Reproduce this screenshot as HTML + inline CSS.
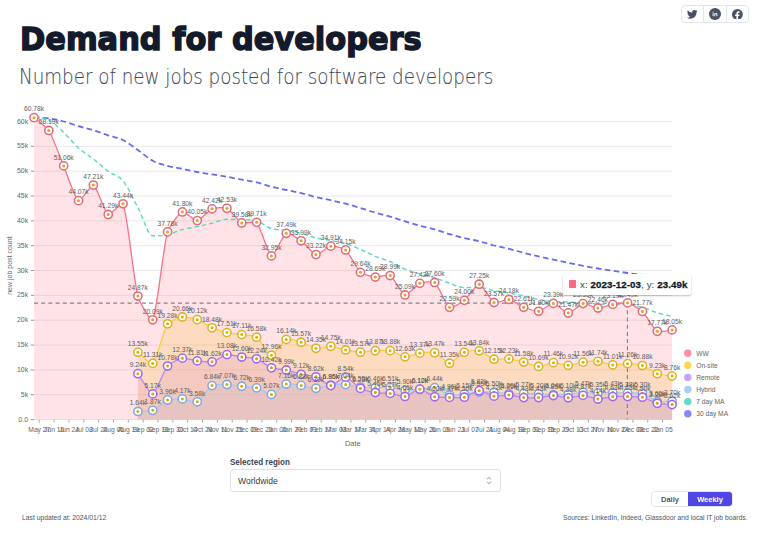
<!DOCTYPE html>
<html><head><meta charset="utf-8"><title>Demand for developers</title>
<style>
html,body{margin:0;padding:0;background:#fff;width:768px;height:538px;overflow:hidden}
body{position:relative;font-family:"Liberation Sans",Arial,sans-serif}
.chart{position:absolute;left:0;top:0}
.g{stroke:#e9e9e9;stroke-width:1}
.xt{stroke:#aaa;stroke-width:1}.yk{stroke:#999;stroke-width:1}
.ch{stroke:#858585;stroke-width:1.15;stroke-dasharray:4 3.2}
.ma30{fill:none;stroke:#686cf0;stroke-width:1.8;stroke-dasharray:5.6 3.4}
.ma7{fill:none;stroke:#5ad8c4;stroke-width:1.4;stroke-dasharray:4.5 3}
.ln{fill:none;stroke-width:1.3;stroke-linejoin:round}
.ln.ww{stroke:#f8728a}.ln.on{stroke:#facd3c}.ln.re{stroke:#bb82f7}.ln.hy{stroke:#a3c8f2}
.pt{fill:#fff;stroke-width:1.55}
.pt.ww{stroke:#e26b7f}.pt.on{stroke:#d9b428}.pt.re{stroke:#a468e6}.pt.hy{stroke:#82aadc}
.dot{fill:#e6a310}.dot.on{fill:#e5b000}.dot.re{fill:#dca010}.dot.hy{fill:#d8aa12}
.dl text{font-size:6.7px;fill:#5e5e5e;text-anchor:middle}
.yt text{font-size:6.9px;fill:#666;text-anchor:end}
.xl text{font-size:6.7px;fill:#666;text-anchor:middle}
.at{font-size:7.0px;fill:#666}
.lg{font-size:6.7px;fill:#666}
h1{position:absolute;left:20.1px;top:22.7px;margin:0;font:700 31.8px "DejaVu Sans",sans-serif;color:#131a2b;white-space:nowrap;line-height:1;-webkit-text-stroke:1.5px #131a2b;transform:scaleX(0.957);transform-origin:0 0}
.sub{position:absolute;left:18.9px;top:66.9px;margin:0;font:200 21px "DejaVu Sans",sans-serif;color:#434a59;white-space:nowrap;line-height:1;-webkit-text-stroke:0.1px #434a59;transform:scaleX(0.871);transform-origin:0 0}
.share{position:absolute;left:681px;top:5px;width:66px;height:16px;border:1px solid #e2e5ea;border-radius:4px;display:flex}
.share div{border-right:1px solid #e2e5ea;display:flex;align-items:center;justify-content:center}.share div:nth-child(1){width:21px}.share div:nth-child(2){width:22px}.share div:nth-child(3){flex:1}
.share div:last-child{border-right:none}
.tip{position:absolute;left:562.5px;top:274px;width:128.5px;height:20.5px;background:#fff;border-radius:2px;box-shadow:0 1px 2px rgba(0,0,0,.25);font-size:9.7px;color:#3a4150;white-space:nowrap}
.tip .sq{position:absolute;left:6px;top:6.3px;width:7.3px;height:7.3px;background:#ff6b84}
.tip .tx{position:absolute;left:17.5px;top:4.9px;letter-spacing:0.1px}
.tip b{font-weight:700;color:#151a26;-webkit-text-stroke:0.3px #151a26}
.lab{position:absolute;left:229.6px;top:457px;font-size:9.2px;font-weight:700;color:#3f4654;transform:scaleX(0.875);transform-origin:0 0;white-space:nowrap}
.sel{position:absolute;left:230px;top:469px;width:269px;height:21px;border:1px solid #dde1e6;border-radius:3px;background:#fff}
.sel span{position:absolute;left:7px;top:5.5px;font-size:9px;color:#363d4a;transform:scaleX(0.95);transform-origin:0 0}
.btns{position:absolute;left:651px;top:491px;width:80px;height:14px;border:1px solid #e2e5ea;border-radius:4px;overflow:hidden;display:flex}
.btns div{display:flex;align-items:center;justify-content:center;font-size:7.5px;font-weight:700}
.b1{width:36px;color:#525866;background:#fff}
.b2{flex:1;background:#4f46e5;color:#fff}
.foot{position:absolute;top:512.3px;font-size:7.7px;color:#4b5563;white-space:nowrap;transform:scaleX(0.9);transform-origin:0 0}
</style></head><body>
<h1 id="t1">Demand for developers</h1>
<p class="sub" id="t2">Number of new jobs posted for software developers</p>
<div class="share">
<div><svg width="10.6" height="8.9" viewBox="0 0 24 20" style="margin-top:0.5px"><path fill="#4a5162" d="M24 2.4a9.8 9.8 0 0 1-2.8.8A4.9 4.9 0 0 0 23.3.4a9.9 9.9 0 0 1-3.1 1.2A4.9 4.9 0 0 0 11.8 6 14 14 0 0 1 1.7.9a4.9 4.9 0 0 0 1.5 6.6A4.9 4.9 0 0 1 1 6.9 4.9 4.9 0 0 0 4.9 11.8a4.9 4.9 0 0 1-2.2.1 4.9 4.9 0 0 0 4.6 3.4A9.9 9.9 0 0 1 0 17.3 14 14 0 0 0 7.5 19.5c9.1 0 14-7.5 14-14v-.6A10 10 0 0 0 24 2.4z"/></svg></div>
<div><svg width="12" height="12" viewBox="0 0 24 24"><circle cx="12" cy="12" r="12" fill="#4a5162"/><g transform="translate(12 12) scale(0.8) translate(-12.5 -12)"><rect x="6.5" y="10" width="2.4" height="7.5" fill="#fff"/><circle cx="7.7" cy="7.3" r="1.4" fill="#fff"/><path fill="#fff" d="M10.8 10h2.3v1.1c.4-.7 1.3-1.3 2.6-1.3 2.3 0 2.8 1.5 2.8 3.5v4.2h-2.4v-3.7c0-.9 0-2-1.3-2s-1.6 1-1.6 2v3.7h-2.4z"/></g></svg></div>
<div><svg width="10.8" height="10.8" viewBox="0 0 24 24" style="margin-left:0.6px"><circle cx="12" cy="12" r="12" fill="#4a5162"/><path fill="#fff" d="M13.4 24v-8.6h2.9l.4-3.4h-3.3V9.9c0-1 .3-1.6 1.7-1.6h1.8V5.2c-.3 0-1.4-.1-2.6-.1-2.6 0-4.3 1.6-4.3 4.4V12H7v3.4h2.9V24z"/></svg></div>
</div>
<svg class="chart" width="768" height="538" viewBox="0 0 768 538"><line x1="34" x2="672.1" y1="419.6" y2="419.6" class="g"/><line x1="30.8" x2="34" y1="419.6" y2="419.6" class="yk"/><line x1="34" x2="672.1" y1="394.76" y2="394.76" class="g"/><line x1="30.8" x2="34" y1="394.76" y2="394.76" class="yk"/><line x1="34" x2="672.1" y1="369.92" y2="369.92" class="g"/><line x1="30.8" x2="34" y1="369.92" y2="369.92" class="yk"/><line x1="34" x2="672.1" y1="345.08" y2="345.08" class="g"/><line x1="30.8" x2="34" y1="345.08" y2="345.08" class="yk"/><line x1="34" x2="672.1" y1="320.23" y2="320.23" class="g"/><line x1="30.8" x2="34" y1="320.23" y2="320.23" class="yk"/><line x1="34" x2="672.1" y1="295.39" y2="295.39" class="g"/><line x1="30.8" x2="34" y1="295.39" y2="295.39" class="yk"/><line x1="34" x2="672.1" y1="270.55" y2="270.55" class="g"/><line x1="30.8" x2="34" y1="270.55" y2="270.55" class="yk"/><line x1="34" x2="672.1" y1="245.71" y2="245.71" class="g"/><line x1="30.8" x2="34" y1="245.71" y2="245.71" class="yk"/><line x1="34" x2="672.1" y1="220.87" y2="220.87" class="g"/><line x1="30.8" x2="34" y1="220.87" y2="220.87" class="yk"/><line x1="34" x2="672.1" y1="196.03" y2="196.03" class="g"/><line x1="30.8" x2="34" y1="196.03" y2="196.03" class="yk"/><line x1="34" x2="672.1" y1="171.19" y2="171.19" class="g"/><line x1="30.8" x2="34" y1="171.19" y2="171.19" class="yk"/><line x1="34" x2="672.1" y1="146.34" y2="146.34" class="g"/><line x1="30.8" x2="34" y1="146.34" y2="146.34" class="yk"/><line x1="34" x2="672.1" y1="121.5" y2="121.5" class="g"/><line x1="30.8" x2="34" y1="121.5" y2="121.5" class="yk"/><path d="M34 117.63 C36.97 120.2 46.83 127.23 48.84 130.49 C52.77 136.88 60.69 158.84 63.68 165.92 C66.62 172.87 74.74 198.21 78.52 200.65 C80.68 202.04 91.01 183.95 93.36 185.05 C96.95 186.72 104.38 212.05 108.2 214.46 C110.32 215.8 122.07 201.11 123.04 203.78 C128 217.42 133.31 278.19 137.88 296.04 C139.25 301.39 151.3 322.85 152.72 319.79 C157.24 310.03 162.92 248.76 167.56 231.9 C168.86 227.19 178.89 213.26 182.4 211.93 C184.83 211 194.42 220.91 197.24 220.62 C200.35 220.3 208.75 210.23 212.08 208.84 C214.69 207.76 224.45 207.12 226.92 208.3 C230.39 209.95 238.29 221.32 241.76 222.95 C244.23 224.12 254.89 220.41 256.6 222.31 C260.83 227 268.02 254.62 271.44 255.89 C273.96 256.83 282.6 235.21 286.28 233.34 C288.54 232.19 298.44 238.88 301.12 240.79 C304.38 243.12 312.74 253.97 315.96 254.55 C318.67 255.04 327.67 246.64 330.8 246.16 C333.61 245.72 343.49 248.03 345.64 249.93 C349.42 253.27 356.72 268.9 360.48 272.34 C362.66 274.33 372.29 276.73 375.32 277.06 C378.22 277.38 387.91 274.21 390.16 275.57 C393.84 277.79 401.65 294.06 405 294.95 C407.58 295.62 416.52 284.76 419.84 283.37 C422.46 282.27 432.67 280.85 434.68 282.47 C438.6 285.65 445.73 305.08 449.52 307.37 C451.67 308.66 461.82 302.34 464.36 300.36 C467.76 297.71 476.34 284.01 479.2 284.21 C482.27 284.44 490.43 300.64 494.04 302.5 C496.36 303.69 506.06 299.01 508.88 299.47 C512 299.97 520.62 306.03 523.72 307.27 C526.56 308.4 535.72 311.66 538.56 311.29 C541.66 310.89 550.5 303.23 553.4 303.39 C556.44 303.56 565.26 312.91 568.24 312.93 C571.2 312.95 579.93 304.11 583.08 303.59 C585.86 303.13 594.93 307.93 597.92 308.01 C600.87 308.09 609.76 304.9 612.76 304.39 C615.69 303.88 624.84 302.24 627.6 302.89 C630.77 303.65 640.02 309.12 642.44 311.44 C645.95 314.8 653.57 329 657.28 331.31 C659.51 332.7 669.15 330.2 672.12 329.92 L672.12 419.6 L34 419.6 Z" fill="rgb(255,100,120)" fill-opacity="0.18"/><path d="M137.88 352.28 C140.85 354.51 150.91 365.14 152.72 363.41 C156.85 359.45 163.28 330.51 167.56 323.81 C169.21 321.22 179.31 317.39 182.4 316.95 C185.25 316.55 194.44 318.62 197.24 319.64 C200.38 320.78 208.99 326.44 212.08 327.79 C214.93 329.03 223.89 331.91 226.92 332.61 C229.83 333.27 238.8 334.13 241.76 334.59 C244.74 335.06 254.27 335.61 256.6 337.23 C260.21 339.73 268.36 354.98 271.44 355.21 C274.3 355.42 282.78 340.94 286.28 339.41 C288.72 338.35 298.24 341.38 301.12 342.24 C304.18 343.16 312.89 347.88 315.96 348.3 C318.83 348.7 327.86 346.15 330.8 346.32 C333.8 346.49 342.64 349.4 345.64 349.99 C348.58 350.57 357.5 352.11 360.48 352.18 C363.44 352.25 372.34 350.84 375.32 350.69 C378.28 350.54 387.31 350.05 390.16 350.64 C393.25 351.28 401.96 356.59 405 356.85 C407.89 357.1 416.83 353.6 419.84 353.17 C422.76 352.76 432.01 351.78 434.68 352.68 C437.95 353.78 446.57 363.24 449.52 363.21 C452.5 363.17 461.08 353.7 464.36 352.33 C467.02 351.22 476.43 350.19 479.2 350.84 C482.37 351.58 490.87 358.38 494.04 359.24 C496.8 359.98 505.95 358.56 508.88 358.84 C511.88 359.12 520.78 361.31 523.72 362.07 C526.72 362.84 535.58 366.43 538.56 366.49 C541.51 366.55 550.41 362.78 553.4 362.66 C556.34 362.55 565.28 365.4 568.24 365.35 C571.22 365.3 580.08 362.58 583.08 362.17 C586.02 361.76 594.99 361 597.92 361.27 C600.93 361.55 609.75 364.66 612.76 364.9 C615.69 365.13 624.64 363.59 627.6 363.66 C630.57 363.72 639.66 364.6 642.44 365.54 C645.59 366.62 654.13 372.63 657.28 373.74 C660.07 374.73 669.15 375.61 672.12 376.08 L672.12 419.6 L137.88 419.6 Z" fill="rgb(243,195,75)" fill-opacity="0.25"/><path d="M137.88 373.69 C140.85 377.74 150.09 394.59 152.72 393.91 C156.03 393.06 163.69 370.71 167.56 366.04 C169.62 363.56 179.27 358.68 182.4 358.14 C185.21 357.66 194.25 360.55 197.24 360.92 C200.19 361.29 209.27 362.47 212.08 361.87 C215.2 361.2 223.81 355.12 226.92 354.61 C229.75 354.15 238.78 356.58 241.76 357 C244.72 357.42 253.86 357.79 256.6 358.79 C259.79 359.95 268.25 366.63 271.44 367.83 C274.19 368.87 283.36 369.33 286.28 369.97 C289.29 370.62 298.11 373.6 301.12 374.29 C304.05 374.96 313.19 375.72 315.96 376.77 C319.13 377.98 327.81 385.53 330.8 385.57 C333.75 385.61 342.8 376.9 345.64 377.17 C348.74 377.47 357.23 386.72 360.48 388.4 C363.17 389.79 372.3 392.01 375.32 392.52 C378.24 393.02 387.22 393.03 390.16 393.42 C393.16 393.81 402.16 396.85 405 396.45 C408.1 396.01 416.88 389.16 419.84 389.19 C422.82 389.22 431.54 395.88 434.68 396.75 C437.48 397.52 446.55 397.34 449.52 397.39 C452.49 397.44 461.52 397.88 464.36 397.24 C467.46 396.54 476.19 390.8 479.2 390.68 C482.13 390.58 490.98 395.7 494.04 396.15 C496.92 396.57 505.93 394.86 508.88 395.01 C511.87 395.15 520.73 397.33 523.72 397.59 C526.67 397.85 535.61 397.8 538.56 397.59 C541.54 397.38 550.44 395.48 553.4 395.5 C556.37 395.53 565.27 397.85 568.24 397.84 C571.21 397.83 580.14 395.29 583.08 395.4 C586.07 395.52 594.93 398.91 597.92 399.03 C600.86 399.15 609.77 396.84 612.76 396.6 C615.71 396.35 624.63 396.53 627.6 396.6 C630.57 396.66 639.59 396.6 642.44 397.24 C645.52 397.94 654.2 402.54 657.28 403.3 C660.14 404.01 669.15 404.34 672.12 404.6 L672.12 419.6 L137.88 419.6 Z" fill="rgb(220,147,188)" fill-opacity="0.25"/><path d="M137.88 411.45 C140.85 411.22 150.04 411.35 152.72 410.31 C155.98 409.04 164.3 401.18 167.56 399.93 C170.24 398.89 179.46 398.69 182.4 398.88 C185.39 399.07 194.82 402.9 197.24 401.81 C200.76 400.24 208.54 387.68 212.08 385.62 C214.48 384.22 223.96 384.41 226.92 384.47 C229.89 384.53 238.79 385.88 241.76 386.21 C244.73 386.55 253.76 387.07 256.6 387.85 C259.69 388.71 268.64 394.77 271.44 394.41 C274.57 394.01 283.02 385.01 286.28 384.03 C288.96 383.22 298.17 384.99 301.12 385.42 C304.11 385.85 313 388.34 315.96 388.3 C318.94 388.26 327.8 385.39 330.8 385.02 C333.73 384.66 342.69 384.42 345.64 384.62 C348.63 384.83 357.49 386.77 360.48 387.06 C363.43 387.34 372.35 387.48 375.32 387.5 C378.29 387.52 387.22 386.98 390.16 387.26 C393.16 387.54 402.01 390.08 405 390.29 C407.94 390.49 416.88 389.56 419.84 389.29 C422.81 389.02 431.87 387.07 434.68 387.6 C437.8 388.2 446.39 394.28 449.52 394.96 C452.33 395.56 461.4 394.31 464.36 394.01 C467.34 393.72 476.22 392.2 479.2 392.03 C482.16 391.85 491.08 392.1 494.04 392.27 C497.02 392.45 505.9 393.65 508.88 393.76 C511.84 393.88 520.75 393.42 523.72 393.42 C526.69 393.42 535.59 393.65 538.56 393.76 C541.53 393.88 550.43 394.51 553.4 394.56 C556.37 394.61 565.28 394.47 568.24 394.26 C571.22 394.05 580.1 392.55 583.08 392.42 C586.04 392.3 594.95 393 597.92 393.02 C600.89 393.04 609.79 392.64 612.76 392.62 C615.73 392.61 624.63 392.81 627.6 392.87 C630.57 392.94 639.68 392.45 642.44 393.27 C645.62 394.21 654.1 400.86 657.28 401.71 C660.04 402.45 669.15 401.32 672.12 401.22 L672.12 419.6 L137.88 419.6 Z" fill="rgb(192,185,203)" fill-opacity="0.25"/><line x1="39.3" x2="39.3" y1="419.6" y2="422.7" class="xt"/><line x1="54.14" x2="54.14" y1="419.6" y2="422.7" class="xt"/><line x1="68.98" x2="68.98" y1="419.6" y2="422.7" class="xt"/><line x1="83.82" x2="83.82" y1="419.6" y2="422.7" class="xt"/><line x1="98.66" x2="98.66" y1="419.6" y2="422.7" class="xt"/><line x1="113.5" x2="113.5" y1="419.6" y2="422.7" class="xt"/><line x1="128.34" x2="128.34" y1="419.6" y2="422.7" class="xt"/><line x1="143.18" x2="143.18" y1="419.6" y2="422.7" class="xt"/><line x1="158.02" x2="158.02" y1="419.6" y2="422.7" class="xt"/><line x1="172.86" x2="172.86" y1="419.6" y2="422.7" class="xt"/><line x1="187.7" x2="187.7" y1="419.6" y2="422.7" class="xt"/><line x1="202.54" x2="202.54" y1="419.6" y2="422.7" class="xt"/><line x1="217.38" x2="217.38" y1="419.6" y2="422.7" class="xt"/><line x1="232.22" x2="232.22" y1="419.6" y2="422.7" class="xt"/><line x1="247.06" x2="247.06" y1="419.6" y2="422.7" class="xt"/><line x1="261.9" x2="261.9" y1="419.6" y2="422.7" class="xt"/><line x1="276.74" x2="276.74" y1="419.6" y2="422.7" class="xt"/><line x1="291.58" x2="291.58" y1="419.6" y2="422.7" class="xt"/><line x1="306.42" x2="306.42" y1="419.6" y2="422.7" class="xt"/><line x1="321.26" x2="321.26" y1="419.6" y2="422.7" class="xt"/><line x1="336.1" x2="336.1" y1="419.6" y2="422.7" class="xt"/><line x1="350.94" x2="350.94" y1="419.6" y2="422.7" class="xt"/><line x1="365.78" x2="365.78" y1="419.6" y2="422.7" class="xt"/><line x1="380.62" x2="380.62" y1="419.6" y2="422.7" class="xt"/><line x1="395.46" x2="395.46" y1="419.6" y2="422.7" class="xt"/><line x1="410.3" x2="410.3" y1="419.6" y2="422.7" class="xt"/><line x1="425.14" x2="425.14" y1="419.6" y2="422.7" class="xt"/><line x1="439.98" x2="439.98" y1="419.6" y2="422.7" class="xt"/><line x1="454.82" x2="454.82" y1="419.6" y2="422.7" class="xt"/><line x1="469.66" x2="469.66" y1="419.6" y2="422.7" class="xt"/><line x1="484.5" x2="484.5" y1="419.6" y2="422.7" class="xt"/><line x1="499.34" x2="499.34" y1="419.6" y2="422.7" class="xt"/><line x1="514.18" x2="514.18" y1="419.6" y2="422.7" class="xt"/><line x1="529.02" x2="529.02" y1="419.6" y2="422.7" class="xt"/><line x1="543.86" x2="543.86" y1="419.6" y2="422.7" class="xt"/><line x1="558.7" x2="558.7" y1="419.6" y2="422.7" class="xt"/><line x1="573.54" x2="573.54" y1="419.6" y2="422.7" class="xt"/><line x1="588.38" x2="588.38" y1="419.6" y2="422.7" class="xt"/><line x1="603.22" x2="603.22" y1="419.6" y2="422.7" class="xt"/><line x1="618.06" x2="618.06" y1="419.6" y2="422.7" class="xt"/><line x1="632.9" x2="632.9" y1="419.6" y2="422.7" class="xt"/><line x1="647.74" x2="647.74" y1="419.6" y2="422.7" class="xt"/><line x1="662.58" x2="662.58" y1="419.6" y2="422.7" class="xt"/><line x1="34" x2="627.6" y1="303.1" y2="303.1" class="ch"/><line x1="627.4" x2="627.4" y1="303.1" y2="419.6" class="ch"/><path d="M34 117.4 C38.95 117.7 43.89 117.62 48.84 118.3 C53.79 118.98 58.73 120.18 63.68 121.5 C68.63 122.82 73.57 124.73 78.52 126.2 C83.47 127.67 88.41 128.78 93.36 130.3 C98.31 131.82 103.25 133.68 108.2 135.3 C113.15 136.92 118.09 137.53 123.04 140 C127.99 142.47 132.93 146.65 137.88 150.1 C142.83 153.55 147.77 158.08 152.72 160.7 C157.67 163.32 162.61 164.43 167.56 165.8 C172.51 167.17 177.45 167.87 182.4 168.9 C187.35 169.93 192.29 171.08 197.24 172 C202.19 172.92 207.13 173.6 212.08 174.4 C217.03 175.2 221.97 175.93 226.92 176.8 C231.87 177.67 236.81 178.67 241.76 179.6 C246.71 180.53 251.65 181.2 256.6 182.4 C261.55 183.6 266.49 185.53 271.44 186.8 C276.39 188.07 281.33 188.95 286.28 190 C291.23 191.05 296.17 191.92 301.12 193.1 C306.07 194.28 311.01 195.92 315.96 197.1 C320.91 198.28 325.85 199.1 330.8 200.2 C335.75 201.3 340.69 202.4 345.64 203.7 C350.59 205 355.53 206.52 360.48 208 C365.43 209.48 370.37 211.17 375.32 212.6 C380.27 214.03 385.21 215.15 390.16 216.6 C395.11 218.05 400.05 219.78 405 221.3 C409.95 222.82 414.89 224.35 419.84 225.7 C424.79 227.05 429.73 228 434.68 229.4 C439.63 230.8 444.57 232.63 449.52 234.1 C454.47 235.57 459.41 237 464.36 238.2 C469.31 239.4 474.25 240.08 479.2 241.3 C484.15 242.52 489.09 244.25 494.04 245.5 C498.99 246.75 503.93 247.58 508.88 248.8 C513.83 250.02 518.77 251.53 523.72 252.8 C528.67 254.07 533.61 255.27 538.56 256.4 C543.51 257.53 548.45 258.52 553.4 259.6 C558.35 260.68 563.29 261.87 568.24 262.9 C573.19 263.93 578.13 264.87 583.08 265.8 C588.03 266.73 592.97 267.68 597.92 268.5 C602.87 269.32 607.81 269.95 612.76 270.7 C617.71 271.45 622.65 272.28 627.6 273 C632.55 273.72 637.49 274.33 642.44 275 C647.39 275.67 652.33 276.33 657.28 277 C662.23 277.67 667.17 278.33 672.12 279" class="ma30"/><path d="M34 117.4 C38.95 118.3 43.89 117.6 48.84 120.1 C53.79 122.6 58.73 127.75 63.68 132.4 C68.63 137.05 73.57 143.57 78.52 148 C83.47 152.43 88.41 155.12 93.36 159 C98.31 162.88 103.25 167.63 108.2 171.3 C113.15 174.97 118.09 174.97 123.04 181 C127.99 187.03 132.93 198.37 137.88 207.5 C142.83 216.63 147.77 235.8 152.72 235.8 C157.67 235.8 162.61 235.63 167.56 234.6 C172.51 233.57 177.45 230.93 182.4 229.6 C187.35 228.27 192.29 227.67 197.24 226.6 C202.19 225.53 207.13 224.43 212.08 223.2 C217.03 221.97 221.97 219.2 226.92 219.2 C231.87 219.2 236.81 219.33 241.76 219.6 C246.71 219.87 251.65 219.63 256.6 221 C261.55 222.37 266.49 227.02 271.44 228.6 C276.39 230.18 281.33 229.73 286.28 230.5 C291.23 231.27 296.17 231.98 301.12 233.2 C306.07 234.42 311.01 236.58 315.96 237.8 C320.91 239.02 325.85 239.55 330.8 240.5 C335.75 241.45 340.69 242 345.64 243.5 C350.59 245 355.53 247.37 360.48 249.5 C365.43 251.63 370.37 254.27 375.32 256.3 C380.27 258.33 385.21 259.55 390.16 261.7 C395.11 263.85 400.05 267.18 405 269.2 C409.95 271.22 414.89 272.4 419.84 273.8 C424.79 275.2 429.73 276.02 434.68 277.6 C439.63 279.18 444.57 281.63 449.52 283.3 C454.47 284.97 459.41 287.6 464.36 287.6 C469.31 287.6 474.25 287.5 479.2 287.5 C484.15 287.5 489.09 289.58 494.04 290.5 C498.99 291.42 503.93 292.08 508.88 293 C513.83 293.92 518.77 294.9 523.72 296 C528.67 297.1 533.61 298.72 538.56 299.6 C543.51 300.48 548.45 300.9 553.4 301.3 C558.35 301.7 563.29 301.73 568.24 302 C573.19 302.27 578.13 302.57 583.08 302.9 C588.03 303.23 592.97 303.73 597.92 304 C602.87 304.27 607.81 304.5 612.76 304.5 C617.71 304.5 622.65 304.3 627.6 304.3 C632.55 304.3 637.49 306.08 642.44 307.5 C647.39 308.92 652.33 311.3 657.28 312.8 C662.23 314.3 667.17 315.27 672.12 316.5" class="ma7"/><path d="M137.88 411.45 C140.85 411.22 150.04 411.35 152.72 410.31 C155.98 409.04 164.3 401.18 167.56 399.93 C170.24 398.89 179.46 398.69 182.4 398.88 C185.39 399.07 194.82 402.9 197.24 401.81 C200.76 400.24 208.54 387.68 212.08 385.62 C214.48 384.22 223.96 384.41 226.92 384.47 C229.89 384.53 238.79 385.88 241.76 386.21 C244.73 386.55 253.76 387.07 256.6 387.85 C259.69 388.71 268.64 394.77 271.44 394.41 C274.57 394.01 283.02 385.01 286.28 384.03 C288.96 383.22 298.17 384.99 301.12 385.42 C304.11 385.85 313 388.34 315.96 388.3 C318.94 388.26 327.8 385.39 330.8 385.02 C333.73 384.66 342.69 384.42 345.64 384.62 C348.63 384.83 357.49 386.77 360.48 387.06 C363.43 387.34 372.35 387.48 375.32 387.5 C378.29 387.52 387.22 386.98 390.16 387.26 C393.16 387.54 402.01 390.08 405 390.29 C407.94 390.49 416.88 389.56 419.84 389.29 C422.81 389.02 431.87 387.07 434.68 387.6 C437.8 388.2 446.39 394.28 449.52 394.96 C452.33 395.56 461.4 394.31 464.36 394.01 C467.34 393.72 476.22 392.2 479.2 392.03 C482.16 391.85 491.08 392.1 494.04 392.27 C497.02 392.45 505.9 393.65 508.88 393.76 C511.84 393.88 520.75 393.42 523.72 393.42 C526.69 393.42 535.59 393.65 538.56 393.76 C541.53 393.88 550.43 394.51 553.4 394.56 C556.37 394.61 565.28 394.47 568.24 394.26 C571.22 394.05 580.1 392.55 583.08 392.42 C586.04 392.3 594.95 393 597.92 393.02 C600.89 393.04 609.79 392.64 612.76 392.62 C615.73 392.61 624.63 392.81 627.6 392.87 C630.57 392.94 639.68 392.45 642.44 393.27 C645.62 394.21 654.1 400.86 657.28 401.71 C660.04 402.45 669.15 401.32 672.12 401.22" class="ln hy"/><circle cx="137.88" cy="411.45" r="4.1" class="pt hy"/><circle cx="137.88" cy="411.45" r="1.5" class="dot hy"/><circle cx="152.72" cy="410.31" r="4.1" class="pt hy"/><circle cx="152.72" cy="410.31" r="1.5" class="dot hy"/><circle cx="167.56" cy="399.93" r="4.1" class="pt hy"/><circle cx="167.56" cy="399.93" r="1.5" class="dot hy"/><circle cx="182.4" cy="398.88" r="4.1" class="pt hy"/><circle cx="182.4" cy="398.88" r="1.5" class="dot hy"/><circle cx="197.24" cy="401.81" r="4.1" class="pt hy"/><circle cx="197.24" cy="401.81" r="1.5" class="dot hy"/><circle cx="212.08" cy="385.62" r="4.1" class="pt hy"/><circle cx="212.08" cy="385.62" r="1.5" class="dot hy"/><circle cx="226.92" cy="384.47" r="4.1" class="pt hy"/><circle cx="226.92" cy="384.47" r="1.5" class="dot hy"/><circle cx="241.76" cy="386.21" r="4.1" class="pt hy"/><circle cx="241.76" cy="386.21" r="1.5" class="dot hy"/><circle cx="256.6" cy="387.85" r="4.1" class="pt hy"/><circle cx="256.6" cy="387.85" r="1.5" class="dot hy"/><circle cx="271.44" cy="394.41" r="4.1" class="pt hy"/><circle cx="271.44" cy="394.41" r="1.5" class="dot hy"/><circle cx="286.28" cy="384.03" r="4.1" class="pt hy"/><circle cx="286.28" cy="384.03" r="1.5" class="dot hy"/><circle cx="301.12" cy="385.42" r="4.1" class="pt hy"/><circle cx="301.12" cy="385.42" r="1.5" class="dot hy"/><circle cx="315.96" cy="388.3" r="4.1" class="pt hy"/><circle cx="315.96" cy="388.3" r="1.5" class="dot hy"/><circle cx="330.8" cy="385.02" r="4.1" class="pt hy"/><circle cx="330.8" cy="385.02" r="1.5" class="dot hy"/><circle cx="345.64" cy="384.62" r="4.1" class="pt hy"/><circle cx="345.64" cy="384.62" r="1.5" class="dot hy"/><circle cx="360.48" cy="387.06" r="4.1" class="pt hy"/><circle cx="360.48" cy="387.06" r="1.5" class="dot hy"/><circle cx="375.32" cy="387.5" r="4.1" class="pt hy"/><circle cx="375.32" cy="387.5" r="1.5" class="dot hy"/><circle cx="390.16" cy="387.26" r="4.1" class="pt hy"/><circle cx="390.16" cy="387.26" r="1.5" class="dot hy"/><circle cx="405" cy="390.29" r="4.1" class="pt hy"/><circle cx="405" cy="390.29" r="1.5" class="dot hy"/><circle cx="419.84" cy="389.29" r="4.1" class="pt hy"/><circle cx="419.84" cy="389.29" r="1.5" class="dot hy"/><circle cx="434.68" cy="387.6" r="4.1" class="pt hy"/><circle cx="434.68" cy="387.6" r="1.5" class="dot hy"/><circle cx="449.52" cy="394.96" r="4.1" class="pt hy"/><circle cx="449.52" cy="394.96" r="1.5" class="dot hy"/><circle cx="464.36" cy="394.01" r="4.1" class="pt hy"/><circle cx="464.36" cy="394.01" r="1.5" class="dot hy"/><circle cx="479.2" cy="392.03" r="4.1" class="pt hy"/><circle cx="479.2" cy="392.03" r="1.5" class="dot hy"/><circle cx="494.04" cy="392.27" r="4.1" class="pt hy"/><circle cx="494.04" cy="392.27" r="1.5" class="dot hy"/><circle cx="508.88" cy="393.76" r="4.1" class="pt hy"/><circle cx="508.88" cy="393.76" r="1.5" class="dot hy"/><circle cx="523.72" cy="393.42" r="4.1" class="pt hy"/><circle cx="523.72" cy="393.42" r="1.5" class="dot hy"/><circle cx="538.56" cy="393.76" r="4.1" class="pt hy"/><circle cx="538.56" cy="393.76" r="1.5" class="dot hy"/><circle cx="553.4" cy="394.56" r="4.1" class="pt hy"/><circle cx="553.4" cy="394.56" r="1.5" class="dot hy"/><circle cx="568.24" cy="394.26" r="4.1" class="pt hy"/><circle cx="568.24" cy="394.26" r="1.5" class="dot hy"/><circle cx="583.08" cy="392.42" r="4.1" class="pt hy"/><circle cx="583.08" cy="392.42" r="1.5" class="dot hy"/><circle cx="597.92" cy="393.02" r="4.1" class="pt hy"/><circle cx="597.92" cy="393.02" r="1.5" class="dot hy"/><circle cx="612.76" cy="392.62" r="4.1" class="pt hy"/><circle cx="612.76" cy="392.62" r="1.5" class="dot hy"/><circle cx="627.6" cy="392.87" r="4.1" class="pt hy"/><circle cx="627.6" cy="392.87" r="1.5" class="dot hy"/><circle cx="642.44" cy="393.27" r="4.1" class="pt hy"/><circle cx="642.44" cy="393.27" r="1.5" class="dot hy"/><circle cx="657.28" cy="401.71" r="4.1" class="pt hy"/><circle cx="657.28" cy="401.71" r="1.5" class="dot hy"/><circle cx="672.12" cy="401.22" r="4.1" class="pt hy"/><circle cx="672.12" cy="401.22" r="1.5" class="dot hy"/><path d="M137.88 373.69 C140.85 377.74 150.09 394.59 152.72 393.91 C156.03 393.06 163.69 370.71 167.56 366.04 C169.62 363.56 179.27 358.68 182.4 358.14 C185.21 357.66 194.25 360.55 197.24 360.92 C200.19 361.29 209.27 362.47 212.08 361.87 C215.2 361.2 223.81 355.12 226.92 354.61 C229.75 354.15 238.78 356.58 241.76 357 C244.72 357.42 253.86 357.79 256.6 358.79 C259.79 359.95 268.25 366.63 271.44 367.83 C274.19 368.87 283.36 369.33 286.28 369.97 C289.29 370.62 298.11 373.6 301.12 374.29 C304.05 374.96 313.19 375.72 315.96 376.77 C319.13 377.98 327.81 385.53 330.8 385.57 C333.75 385.61 342.8 376.9 345.64 377.17 C348.74 377.47 357.23 386.72 360.48 388.4 C363.17 389.79 372.3 392.01 375.32 392.52 C378.24 393.02 387.22 393.03 390.16 393.42 C393.16 393.81 402.16 396.85 405 396.45 C408.1 396.01 416.88 389.16 419.84 389.19 C422.82 389.22 431.54 395.88 434.68 396.75 C437.48 397.52 446.55 397.34 449.52 397.39 C452.49 397.44 461.52 397.88 464.36 397.24 C467.46 396.54 476.19 390.8 479.2 390.68 C482.13 390.58 490.98 395.7 494.04 396.15 C496.92 396.57 505.93 394.86 508.88 395.01 C511.87 395.15 520.73 397.33 523.72 397.59 C526.67 397.85 535.61 397.8 538.56 397.59 C541.54 397.38 550.44 395.48 553.4 395.5 C556.37 395.53 565.27 397.85 568.24 397.84 C571.21 397.83 580.14 395.29 583.08 395.4 C586.07 395.52 594.93 398.91 597.92 399.03 C600.86 399.15 609.77 396.84 612.76 396.6 C615.71 396.35 624.63 396.53 627.6 396.6 C630.57 396.66 639.59 396.6 642.44 397.24 C645.52 397.94 654.2 402.54 657.28 403.3 C660.14 404.01 669.15 404.34 672.12 404.6" class="ln re"/><circle cx="137.88" cy="373.69" r="4.1" class="pt re"/><circle cx="137.88" cy="373.69" r="1.5" class="dot re"/><circle cx="152.72" cy="393.91" r="4.1" class="pt re"/><circle cx="152.72" cy="393.91" r="1.5" class="dot re"/><circle cx="167.56" cy="366.04" r="4.1" class="pt re"/><circle cx="167.56" cy="366.04" r="1.5" class="dot re"/><circle cx="182.4" cy="358.14" r="4.1" class="pt re"/><circle cx="182.4" cy="358.14" r="1.5" class="dot re"/><circle cx="197.24" cy="360.92" r="4.1" class="pt re"/><circle cx="197.24" cy="360.92" r="1.5" class="dot re"/><circle cx="212.08" cy="361.87" r="4.1" class="pt re"/><circle cx="212.08" cy="361.87" r="1.5" class="dot re"/><circle cx="226.92" cy="354.61" r="4.1" class="pt re"/><circle cx="226.92" cy="354.61" r="1.5" class="dot re"/><circle cx="241.76" cy="357" r="4.1" class="pt re"/><circle cx="241.76" cy="357" r="1.5" class="dot re"/><circle cx="256.6" cy="358.79" r="4.1" class="pt re"/><circle cx="256.6" cy="358.79" r="1.5" class="dot re"/><circle cx="271.44" cy="367.83" r="4.1" class="pt re"/><circle cx="271.44" cy="367.83" r="1.5" class="dot re"/><circle cx="286.28" cy="369.97" r="4.1" class="pt re"/><circle cx="286.28" cy="369.97" r="1.5" class="dot re"/><circle cx="301.12" cy="374.29" r="4.1" class="pt re"/><circle cx="301.12" cy="374.29" r="1.5" class="dot re"/><circle cx="315.96" cy="376.77" r="4.1" class="pt re"/><circle cx="315.96" cy="376.77" r="1.5" class="dot re"/><circle cx="330.8" cy="385.57" r="4.1" class="pt re"/><circle cx="330.8" cy="385.57" r="1.5" class="dot re"/><circle cx="345.64" cy="377.17" r="4.1" class="pt re"/><circle cx="345.64" cy="377.17" r="1.5" class="dot re"/><circle cx="360.48" cy="388.4" r="4.1" class="pt re"/><circle cx="360.48" cy="388.4" r="1.5" class="dot re"/><circle cx="375.32" cy="392.52" r="4.1" class="pt re"/><circle cx="375.32" cy="392.52" r="1.5" class="dot re"/><circle cx="390.16" cy="393.42" r="4.1" class="pt re"/><circle cx="390.16" cy="393.42" r="1.5" class="dot re"/><circle cx="405" cy="396.45" r="4.1" class="pt re"/><circle cx="405" cy="396.45" r="1.5" class="dot re"/><circle cx="419.84" cy="389.19" r="4.1" class="pt re"/><circle cx="419.84" cy="389.19" r="1.5" class="dot re"/><circle cx="434.68" cy="396.75" r="4.1" class="pt re"/><circle cx="434.68" cy="396.75" r="1.5" class="dot re"/><circle cx="449.52" cy="397.39" r="4.1" class="pt re"/><circle cx="449.52" cy="397.39" r="1.5" class="dot re"/><circle cx="464.36" cy="397.24" r="4.1" class="pt re"/><circle cx="464.36" cy="397.24" r="1.5" class="dot re"/><circle cx="479.2" cy="390.68" r="4.1" class="pt re"/><circle cx="479.2" cy="390.68" r="1.5" class="dot re"/><circle cx="494.04" cy="396.15" r="4.1" class="pt re"/><circle cx="494.04" cy="396.15" r="1.5" class="dot re"/><circle cx="508.88" cy="395.01" r="4.1" class="pt re"/><circle cx="508.88" cy="395.01" r="1.5" class="dot re"/><circle cx="523.72" cy="397.59" r="4.1" class="pt re"/><circle cx="523.72" cy="397.59" r="1.5" class="dot re"/><circle cx="538.56" cy="397.59" r="4.1" class="pt re"/><circle cx="538.56" cy="397.59" r="1.5" class="dot re"/><circle cx="553.4" cy="395.5" r="4.1" class="pt re"/><circle cx="553.4" cy="395.5" r="1.5" class="dot re"/><circle cx="568.24" cy="397.84" r="4.1" class="pt re"/><circle cx="568.24" cy="397.84" r="1.5" class="dot re"/><circle cx="583.08" cy="395.4" r="4.1" class="pt re"/><circle cx="583.08" cy="395.4" r="1.5" class="dot re"/><circle cx="597.92" cy="399.03" r="4.1" class="pt re"/><circle cx="597.92" cy="399.03" r="1.5" class="dot re"/><circle cx="612.76" cy="396.6" r="4.1" class="pt re"/><circle cx="612.76" cy="396.6" r="1.5" class="dot re"/><circle cx="627.6" cy="396.6" r="4.1" class="pt re"/><circle cx="627.6" cy="396.6" r="1.5" class="dot re"/><circle cx="642.44" cy="397.24" r="4.1" class="pt re"/><circle cx="642.44" cy="397.24" r="1.5" class="dot re"/><circle cx="657.28" cy="403.3" r="4.1" class="pt re"/><circle cx="657.28" cy="403.3" r="1.5" class="dot re"/><circle cx="672.12" cy="404.6" r="4.1" class="pt re"/><circle cx="672.12" cy="404.6" r="1.5" class="dot re"/><path d="M137.88 352.28 C140.85 354.51 150.91 365.14 152.72 363.41 C156.85 359.45 163.28 330.51 167.56 323.81 C169.21 321.22 179.31 317.39 182.4 316.95 C185.25 316.55 194.44 318.62 197.24 319.64 C200.38 320.78 208.99 326.44 212.08 327.79 C214.93 329.03 223.89 331.91 226.92 332.61 C229.83 333.27 238.8 334.13 241.76 334.59 C244.74 335.06 254.27 335.61 256.6 337.23 C260.21 339.73 268.36 354.98 271.44 355.21 C274.3 355.42 282.78 340.94 286.28 339.41 C288.72 338.35 298.24 341.38 301.12 342.24 C304.18 343.16 312.89 347.88 315.96 348.3 C318.83 348.7 327.86 346.15 330.8 346.32 C333.8 346.49 342.64 349.4 345.64 349.99 C348.58 350.57 357.5 352.11 360.48 352.18 C363.44 352.25 372.34 350.84 375.32 350.69 C378.28 350.54 387.31 350.05 390.16 350.64 C393.25 351.28 401.96 356.59 405 356.85 C407.89 357.1 416.83 353.6 419.84 353.17 C422.76 352.76 432.01 351.78 434.68 352.68 C437.95 353.78 446.57 363.24 449.52 363.21 C452.5 363.17 461.08 353.7 464.36 352.33 C467.02 351.22 476.43 350.19 479.2 350.84 C482.37 351.58 490.87 358.38 494.04 359.24 C496.8 359.98 505.95 358.56 508.88 358.84 C511.88 359.12 520.78 361.31 523.72 362.07 C526.72 362.84 535.58 366.43 538.56 366.49 C541.51 366.55 550.41 362.78 553.4 362.66 C556.34 362.55 565.28 365.4 568.24 365.35 C571.22 365.3 580.08 362.58 583.08 362.17 C586.02 361.76 594.99 361 597.92 361.27 C600.93 361.55 609.75 364.66 612.76 364.9 C615.69 365.13 624.64 363.59 627.6 363.66 C630.57 363.72 639.66 364.6 642.44 365.54 C645.59 366.62 654.13 372.63 657.28 373.74 C660.07 374.73 669.15 375.61 672.12 376.08" class="ln on"/><circle cx="137.88" cy="352.28" r="4.1" class="pt on"/><circle cx="137.88" cy="352.28" r="1.5" class="dot on"/><circle cx="152.72" cy="363.41" r="4.1" class="pt on"/><circle cx="152.72" cy="363.41" r="1.5" class="dot on"/><circle cx="167.56" cy="323.81" r="4.1" class="pt on"/><circle cx="167.56" cy="323.81" r="1.5" class="dot on"/><circle cx="182.4" cy="316.95" r="4.1" class="pt on"/><circle cx="182.4" cy="316.95" r="1.5" class="dot on"/><circle cx="197.24" cy="319.64" r="4.1" class="pt on"/><circle cx="197.24" cy="319.64" r="1.5" class="dot on"/><circle cx="212.08" cy="327.79" r="4.1" class="pt on"/><circle cx="212.08" cy="327.79" r="1.5" class="dot on"/><circle cx="226.92" cy="332.61" r="4.1" class="pt on"/><circle cx="226.92" cy="332.61" r="1.5" class="dot on"/><circle cx="241.76" cy="334.59" r="4.1" class="pt on"/><circle cx="241.76" cy="334.59" r="1.5" class="dot on"/><circle cx="256.6" cy="337.23" r="4.1" class="pt on"/><circle cx="256.6" cy="337.23" r="1.5" class="dot on"/><circle cx="271.44" cy="355.21" r="4.1" class="pt on"/><circle cx="271.44" cy="355.21" r="1.5" class="dot on"/><circle cx="286.28" cy="339.41" r="4.1" class="pt on"/><circle cx="286.28" cy="339.41" r="1.5" class="dot on"/><circle cx="301.12" cy="342.24" r="4.1" class="pt on"/><circle cx="301.12" cy="342.24" r="1.5" class="dot on"/><circle cx="315.96" cy="348.3" r="4.1" class="pt on"/><circle cx="315.96" cy="348.3" r="1.5" class="dot on"/><circle cx="330.8" cy="346.32" r="4.1" class="pt on"/><circle cx="330.8" cy="346.32" r="1.5" class="dot on"/><circle cx="345.64" cy="349.99" r="4.1" class="pt on"/><circle cx="345.64" cy="349.99" r="1.5" class="dot on"/><circle cx="360.48" cy="352.18" r="4.1" class="pt on"/><circle cx="360.48" cy="352.18" r="1.5" class="dot on"/><circle cx="375.32" cy="350.69" r="4.1" class="pt on"/><circle cx="375.32" cy="350.69" r="1.5" class="dot on"/><circle cx="390.16" cy="350.64" r="4.1" class="pt on"/><circle cx="390.16" cy="350.64" r="1.5" class="dot on"/><circle cx="405" cy="356.85" r="4.1" class="pt on"/><circle cx="405" cy="356.85" r="1.5" class="dot on"/><circle cx="419.84" cy="353.17" r="4.1" class="pt on"/><circle cx="419.84" cy="353.17" r="1.5" class="dot on"/><circle cx="434.68" cy="352.68" r="4.1" class="pt on"/><circle cx="434.68" cy="352.68" r="1.5" class="dot on"/><circle cx="449.52" cy="363.21" r="4.1" class="pt on"/><circle cx="449.52" cy="363.21" r="1.5" class="dot on"/><circle cx="464.36" cy="352.33" r="4.1" class="pt on"/><circle cx="464.36" cy="352.33" r="1.5" class="dot on"/><circle cx="479.2" cy="350.84" r="4.1" class="pt on"/><circle cx="479.2" cy="350.84" r="1.5" class="dot on"/><circle cx="494.04" cy="359.24" r="4.1" class="pt on"/><circle cx="494.04" cy="359.24" r="1.5" class="dot on"/><circle cx="508.88" cy="358.84" r="4.1" class="pt on"/><circle cx="508.88" cy="358.84" r="1.5" class="dot on"/><circle cx="523.72" cy="362.07" r="4.1" class="pt on"/><circle cx="523.72" cy="362.07" r="1.5" class="dot on"/><circle cx="538.56" cy="366.49" r="4.1" class="pt on"/><circle cx="538.56" cy="366.49" r="1.5" class="dot on"/><circle cx="553.4" cy="362.66" r="4.1" class="pt on"/><circle cx="553.4" cy="362.66" r="1.5" class="dot on"/><circle cx="568.24" cy="365.35" r="4.1" class="pt on"/><circle cx="568.24" cy="365.35" r="1.5" class="dot on"/><circle cx="583.08" cy="362.17" r="4.1" class="pt on"/><circle cx="583.08" cy="362.17" r="1.5" class="dot on"/><circle cx="597.92" cy="361.27" r="4.1" class="pt on"/><circle cx="597.92" cy="361.27" r="1.5" class="dot on"/><circle cx="612.76" cy="364.9" r="4.1" class="pt on"/><circle cx="612.76" cy="364.9" r="1.5" class="dot on"/><circle cx="627.6" cy="363.66" r="4.1" class="pt on"/><circle cx="627.6" cy="363.66" r="1.5" class="dot on"/><circle cx="642.44" cy="365.54" r="4.1" class="pt on"/><circle cx="642.44" cy="365.54" r="1.5" class="dot on"/><circle cx="657.28" cy="373.74" r="4.1" class="pt on"/><circle cx="657.28" cy="373.74" r="1.5" class="dot on"/><circle cx="672.12" cy="376.08" r="4.1" class="pt on"/><circle cx="672.12" cy="376.08" r="1.5" class="dot on"/><path d="M34 117.63 C36.97 120.2 46.83 127.23 48.84 130.49 C52.77 136.88 60.69 158.84 63.68 165.92 C66.62 172.87 74.74 198.21 78.52 200.65 C80.68 202.04 91.01 183.95 93.36 185.05 C96.95 186.72 104.38 212.05 108.2 214.46 C110.32 215.8 122.07 201.11 123.04 203.78 C128 217.42 133.31 278.19 137.88 296.04 C139.25 301.39 151.3 322.85 152.72 319.79 C157.24 310.03 162.92 248.76 167.56 231.9 C168.86 227.19 178.89 213.26 182.4 211.93 C184.83 211 194.42 220.91 197.24 220.62 C200.35 220.3 208.75 210.23 212.08 208.84 C214.69 207.76 224.45 207.12 226.92 208.3 C230.39 209.95 238.29 221.32 241.76 222.95 C244.23 224.12 254.89 220.41 256.6 222.31 C260.83 227 268.02 254.62 271.44 255.89 C273.96 256.83 282.6 235.21 286.28 233.34 C288.54 232.19 298.44 238.88 301.12 240.79 C304.38 243.12 312.74 253.97 315.96 254.55 C318.67 255.04 327.67 246.64 330.8 246.16 C333.61 245.72 343.49 248.03 345.64 249.93 C349.42 253.27 356.72 268.9 360.48 272.34 C362.66 274.33 372.29 276.73 375.32 277.06 C378.22 277.38 387.91 274.21 390.16 275.57 C393.84 277.79 401.65 294.06 405 294.95 C407.58 295.62 416.52 284.76 419.84 283.37 C422.46 282.27 432.67 280.85 434.68 282.47 C438.6 285.65 445.73 305.08 449.52 307.37 C451.67 308.66 461.82 302.34 464.36 300.36 C467.76 297.71 476.34 284.01 479.2 284.21 C482.27 284.44 490.43 300.64 494.04 302.5 C496.36 303.69 506.06 299.01 508.88 299.47 C512 299.97 520.62 306.03 523.72 307.27 C526.56 308.4 535.72 311.66 538.56 311.29 C541.66 310.89 550.5 303.23 553.4 303.39 C556.44 303.56 565.26 312.91 568.24 312.93 C571.2 312.95 579.93 304.11 583.08 303.59 C585.86 303.13 594.93 307.93 597.92 308.01 C600.87 308.09 609.76 304.9 612.76 304.39 C615.69 303.88 624.84 302.24 627.6 302.89 C630.77 303.65 640.02 309.12 642.44 311.44 C645.95 314.8 653.57 329 657.28 331.31 C659.51 332.7 669.15 330.2 672.12 329.92" class="ln ww"/><circle cx="34" cy="117.63" r="4.1" class="pt ww"/><circle cx="34" cy="117.63" r="1.5" class="dot ww"/><circle cx="48.84" cy="130.49" r="4.1" class="pt ww"/><circle cx="48.84" cy="130.49" r="1.5" class="dot ww"/><circle cx="63.68" cy="165.92" r="4.1" class="pt ww"/><circle cx="63.68" cy="165.92" r="1.5" class="dot ww"/><circle cx="78.52" cy="200.65" r="4.1" class="pt ww"/><circle cx="78.52" cy="200.65" r="1.5" class="dot ww"/><circle cx="93.36" cy="185.05" r="4.1" class="pt ww"/><circle cx="93.36" cy="185.05" r="1.5" class="dot ww"/><circle cx="108.2" cy="214.46" r="4.1" class="pt ww"/><circle cx="108.2" cy="214.46" r="1.5" class="dot ww"/><circle cx="123.04" cy="203.78" r="4.1" class="pt ww"/><circle cx="123.04" cy="203.78" r="1.5" class="dot ww"/><circle cx="137.88" cy="296.04" r="4.1" class="pt ww"/><circle cx="137.88" cy="296.04" r="1.5" class="dot ww"/><circle cx="152.72" cy="319.79" r="4.1" class="pt ww"/><circle cx="152.72" cy="319.79" r="1.5" class="dot ww"/><circle cx="167.56" cy="231.9" r="4.1" class="pt ww"/><circle cx="167.56" cy="231.9" r="1.5" class="dot ww"/><circle cx="182.4" cy="211.93" r="4.1" class="pt ww"/><circle cx="182.4" cy="211.93" r="1.5" class="dot ww"/><circle cx="197.24" cy="220.62" r="4.1" class="pt ww"/><circle cx="197.24" cy="220.62" r="1.5" class="dot ww"/><circle cx="212.08" cy="208.84" r="4.1" class="pt ww"/><circle cx="212.08" cy="208.84" r="1.5" class="dot ww"/><circle cx="226.92" cy="208.3" r="4.1" class="pt ww"/><circle cx="226.92" cy="208.3" r="1.5" class="dot ww"/><circle cx="241.76" cy="222.95" r="4.1" class="pt ww"/><circle cx="241.76" cy="222.95" r="1.5" class="dot ww"/><circle cx="256.6" cy="222.31" r="4.1" class="pt ww"/><circle cx="256.6" cy="222.31" r="1.5" class="dot ww"/><circle cx="271.44" cy="255.89" r="4.1" class="pt ww"/><circle cx="271.44" cy="255.89" r="1.5" class="dot ww"/><circle cx="286.28" cy="233.34" r="4.1" class="pt ww"/><circle cx="286.28" cy="233.34" r="1.5" class="dot ww"/><circle cx="301.12" cy="240.79" r="4.1" class="pt ww"/><circle cx="301.12" cy="240.79" r="1.5" class="dot ww"/><circle cx="315.96" cy="254.55" r="4.1" class="pt ww"/><circle cx="315.96" cy="254.55" r="1.5" class="dot ww"/><circle cx="330.8" cy="246.16" r="4.1" class="pt ww"/><circle cx="330.8" cy="246.16" r="1.5" class="dot ww"/><circle cx="345.64" cy="249.93" r="4.1" class="pt ww"/><circle cx="345.64" cy="249.93" r="1.5" class="dot ww"/><circle cx="360.48" cy="272.34" r="4.1" class="pt ww"/><circle cx="360.48" cy="272.34" r="1.5" class="dot ww"/><circle cx="375.32" cy="277.06" r="4.1" class="pt ww"/><circle cx="375.32" cy="277.06" r="1.5" class="dot ww"/><circle cx="390.16" cy="275.57" r="4.1" class="pt ww"/><circle cx="390.16" cy="275.57" r="1.5" class="dot ww"/><circle cx="405" cy="294.95" r="4.1" class="pt ww"/><circle cx="405" cy="294.95" r="1.5" class="dot ww"/><circle cx="419.84" cy="283.37" r="4.1" class="pt ww"/><circle cx="419.84" cy="283.37" r="1.5" class="dot ww"/><circle cx="434.68" cy="282.47" r="4.1" class="pt ww"/><circle cx="434.68" cy="282.47" r="1.5" class="dot ww"/><circle cx="449.52" cy="307.37" r="4.1" class="pt ww"/><circle cx="449.52" cy="307.37" r="1.5" class="dot ww"/><circle cx="464.36" cy="300.36" r="4.1" class="pt ww"/><circle cx="464.36" cy="300.36" r="1.5" class="dot ww"/><circle cx="479.2" cy="284.21" r="4.1" class="pt ww"/><circle cx="479.2" cy="284.21" r="1.5" class="dot ww"/><circle cx="494.04" cy="302.5" r="4.1" class="pt ww"/><circle cx="494.04" cy="302.5" r="1.5" class="dot ww"/><circle cx="508.88" cy="299.47" r="4.1" class="pt ww"/><circle cx="508.88" cy="299.47" r="1.5" class="dot ww"/><circle cx="523.72" cy="307.27" r="4.1" class="pt ww"/><circle cx="523.72" cy="307.27" r="1.5" class="dot ww"/><circle cx="538.56" cy="311.29" r="4.1" class="pt ww"/><circle cx="538.56" cy="311.29" r="1.5" class="dot ww"/><circle cx="553.4" cy="303.39" r="4.1" class="pt ww"/><circle cx="553.4" cy="303.39" r="1.5" class="dot ww"/><circle cx="568.24" cy="312.93" r="4.1" class="pt ww"/><circle cx="568.24" cy="312.93" r="1.5" class="dot ww"/><circle cx="583.08" cy="303.59" r="4.1" class="pt ww"/><circle cx="583.08" cy="303.59" r="1.5" class="dot ww"/><circle cx="597.92" cy="308.01" r="4.1" class="pt ww"/><circle cx="597.92" cy="308.01" r="1.5" class="dot ww"/><circle cx="612.76" cy="304.39" r="4.1" class="pt ww"/><circle cx="612.76" cy="304.39" r="1.5" class="dot ww"/><circle cx="627.6" cy="302.89" r="4.1" class="pt ww"/><circle cx="627.6" cy="302.89" r="1.5" class="dot ww"/><circle cx="642.44" cy="311.44" r="4.1" class="pt ww"/><circle cx="642.44" cy="311.44" r="1.5" class="dot ww"/><circle cx="657.28" cy="331.31" r="4.1" class="pt ww"/><circle cx="657.28" cy="331.31" r="1.5" class="dot ww"/><circle cx="672.12" cy="329.92" r="4.1" class="pt ww"/><circle cx="672.12" cy="329.92" r="1.5" class="dot ww"/><g class="dl"><text x="34" y="111.43">60.78k</text><text x="48.84" y="124.29">58.19k</text><text x="63.68" y="159.72">51.06k</text><text x="78.52" y="194.45">44.07k</text><text x="93.36" y="178.85">47.21k</text><text x="108.2" y="208.26">41.29k</text><text x="123.04" y="197.58">43.44k</text><text x="137.88" y="289.84">24.87k</text><text x="152.72" y="313.59">20.09k</text><text x="167.56" y="225.7">37.78k</text><text x="182.4" y="205.73">41.80k</text><text x="197.24" y="214.42">40.05k</text><text x="212.08" y="202.64">42.42k</text><text x="226.92" y="202.1">42.53k</text><text x="241.76" y="216.75">39.58k</text><text x="256.6" y="216.11">39.71k</text><text x="271.44" y="249.69">32.95k</text><text x="286.28" y="227.14">37.49k</text><text x="301.12" y="234.59">35.99k</text><text x="315.96" y="248.35">33.22k</text><text x="330.8" y="239.96">34.91k</text><text x="345.64" y="243.73">34.15k</text><text x="360.48" y="266.14">29.64k</text><text x="375.32" y="270.86">28.69k</text><text x="390.16" y="269.37">28.99k</text><text x="405" y="288.75">25.09k</text><text x="419.84" y="277.17">27.42k</text><text x="434.68" y="276.27">27.60k</text><text x="449.52" y="301.17">22.59k</text><text x="464.36" y="294.16">24.00k</text><text x="479.2" y="278.01">27.25k</text><text x="494.04" y="296.3">23.57k</text><text x="508.88" y="293.27">24.18k</text><text x="523.72" y="301.07">22.61k</text><text x="538.56" y="305.09">21.80k</text><text x="553.4" y="297.19">23.39k</text><text x="568.24" y="306.73">21.47k</text><text x="583.08" y="297.39">23.35k</text><text x="597.92" y="301.81">22.46k</text><text x="612.76" y="298.19">23.19k</text><text x="627.6" y="296.69">23.49k</text><text x="642.44" y="305.24">21.77k</text><text x="657.28" y="325.11">17.77k</text><text x="672.12" y="323.72">18.05k</text><text x="137.88" y="346.08">13.55k</text><text x="152.72" y="357.21">11.31k</text><text x="167.56" y="317.61">19.28k</text><text x="182.4" y="310.75">20.66k</text><text x="197.24" y="313.44">20.12k</text><text x="212.08" y="321.59">18.48k</text><text x="226.92" y="326.41">17.51k</text><text x="241.76" y="328.39">17.11k</text><text x="256.6" y="331.03">16.58k</text><text x="271.44" y="349.01">12.96k</text><text x="286.28" y="333.21">16.14k</text><text x="301.12" y="336.04">15.57k</text><text x="315.96" y="342.1">14.35k</text><text x="330.8" y="340.12">14.75k</text><text x="345.64" y="343.79">14.01k</text><text x="360.48" y="345.98">13.57k</text><text x="375.32" y="344.49">13.87k</text><text x="390.16" y="344.44">13.88k</text><text x="405" y="350.65">12.63k</text><text x="419.84" y="346.97">13.37k</text><text x="434.68" y="346.48">13.47k</text><text x="449.52" y="357.01">11.35k</text><text x="464.36" y="346.13">13.54k</text><text x="479.2" y="344.64">13.84k</text><text x="494.04" y="353.04">12.15k</text><text x="508.88" y="352.64">12.23k</text><text x="523.72" y="355.87">11.58k</text><text x="538.56" y="360.29">10.69k</text><text x="553.4" y="356.46">11.46k</text><text x="568.24" y="359.15">10.92k</text><text x="583.08" y="355.97">11.56k</text><text x="597.92" y="355.07">11.74k</text><text x="612.76" y="358.7">11.01k</text><text x="627.6" y="357.46">11.26k</text><text x="642.44" y="359.34">10.88k</text><text x="657.28" y="367.54">9.23k</text><text x="672.12" y="369.88">8.76k</text><text x="137.88" y="367.49">9.24k</text><text x="152.72" y="387.71">5.17k</text><text x="167.56" y="359.84">10.78k</text><text x="182.4" y="351.94">12.37k</text><text x="197.24" y="354.72">11.81k</text><text x="212.08" y="355.67">11.62k</text><text x="226.92" y="348.41">13.08k</text><text x="241.76" y="350.8">12.60k</text><text x="256.6" y="352.59">12.24k</text><text x="271.44" y="361.63">10.42k</text><text x="286.28" y="363.77">9.99k</text><text x="301.12" y="368.09">9.12k</text><text x="315.96" y="370.57">8.62k</text><text x="330.8" y="379.37">6.85k</text><text x="345.64" y="370.97">8.54k</text><text x="360.48" y="382.2">6.28k</text><text x="375.32" y="386.32">5.45k</text><text x="390.16" y="387.22">5.27k</text><text x="405" y="390.25">4.66k</text><text x="419.84" y="382.99">6.12k</text><text x="434.68" y="390.55">4.60k</text><text x="449.52" y="391.19">4.47k</text><text x="464.36" y="391.04">4.50k</text><text x="479.2" y="384.48">5.82k</text><text x="494.04" y="389.95">4.72k</text><text x="508.88" y="388.81">4.95k</text><text x="523.72" y="391.39">4.43k</text><text x="538.56" y="391.39">4.43k</text><text x="553.4" y="389.3">4.85k</text><text x="568.24" y="391.64">4.38k</text><text x="583.08" y="389.2">4.87k</text><text x="597.92" y="392.83">4.14k</text><text x="612.76" y="390.4">4.63k</text><text x="627.6" y="390.4">4.63k</text><text x="642.44" y="391.04">4.50k</text><text x="657.28" y="397.1">3.28k</text><text x="672.12" y="398.4">3.02k</text><text x="137.88" y="405.25">1.64k</text><text x="152.72" y="404.11">1.87k</text><text x="167.56" y="393.73">3.96k</text><text x="182.4" y="392.68">4.17k</text><text x="197.24" y="395.61">3.58k</text><text x="212.08" y="379.42">6.84k</text><text x="226.92" y="378.27">7.07k</text><text x="241.76" y="380.01">6.72k</text><text x="256.6" y="381.65">6.39k</text><text x="271.44" y="388.21">5.07k</text><text x="286.28" y="377.83">7.16k</text><text x="301.12" y="379.22">6.88k</text><text x="315.96" y="382.1">6.30k</text><text x="330.8" y="378.82">6.96k</text><text x="345.64" y="378.42">7.04k</text><text x="360.48" y="380.86">6.55k</text><text x="375.32" y="381.3">6.46k</text><text x="390.16" y="381.06">6.51k</text><text x="405" y="384.09">5.90k</text><text x="419.84" y="383.09">6.10k</text><text x="434.68" y="381.4">6.44k</text><text x="449.52" y="388.76">4.96k</text><text x="464.36" y="387.81">5.15k</text><text x="479.2" y="385.83">5.55k</text><text x="494.04" y="386.07">5.50k</text><text x="508.88" y="387.56">5.20k</text><text x="523.72" y="387.22">5.27k</text><text x="538.56" y="387.56">5.20k</text><text x="553.4" y="388.36">5.04k</text><text x="568.24" y="388.06">5.10k</text><text x="583.08" y="386.22">5.47k</text><text x="597.92" y="386.82">5.35k</text><text x="612.76" y="386.42">5.43k</text><text x="627.6" y="386.67">5.38k</text><text x="642.44" y="387.07">5.30k</text><text x="657.28" y="395.51">3.60k</text><text x="672.12" y="395.02">3.70k</text></g><g class="yt"><text x="28.1" y="421.7">0.0</text><text x="28.1" y="396.86">5k</text><text x="28.1" y="372.02">10k</text><text x="28.1" y="347.18">15k</text><text x="28.1" y="322.33">20k</text><text x="28.1" y="297.49">25k</text><text x="28.1" y="272.65">30k</text><text x="28.1" y="247.81">35k</text><text x="28.1" y="222.97">40k</text><text x="28.1" y="198.13">45k</text><text x="28.1" y="173.28">50k</text><text x="28.1" y="148.44">55k</text><text x="28.1" y="123.6">60k</text></g><g class="xl"><text x="39.3" y="432">May 27</text><text x="54.14" y="432">Jun 10</text><text x="68.98" y="432">Jun 24</text><text x="83.82" y="432">Jul 08</text><text x="98.66" y="432">Jul 22</text><text x="113.5" y="432">Aug 05</text><text x="128.34" y="432">Aug 19</text><text x="143.18" y="432">Sep 02</text><text x="158.02" y="432">Sep 16</text><text x="172.86" y="432">Sep 30</text><text x="187.7" y="432">Oct 14</text><text x="202.54" y="432">Oct 28</text><text x="217.38" y="432">Nov 11</text><text x="232.22" y="432">Nov 25</text><text x="247.06" y="432">Dec 09</text><text x="261.9" y="432">Dec 23</text><text x="276.74" y="432">Jan 06</text><text x="291.58" y="432">Jan 20</text><text x="306.42" y="432">Feb 03</text><text x="321.26" y="432">Feb 17</text><text x="336.1" y="432">Mar 03</text><text x="350.94" y="432">Mar 17</text><text x="365.78" y="432">Mar 31</text><text x="380.62" y="432">Apr 14</text><text x="395.46" y="432">Apr 28</text><text x="410.3" y="432">May 12</text><text x="425.14" y="432">May 26</text><text x="439.98" y="432">Jun 09</text><text x="454.82" y="432">Jun 23</text><text x="469.66" y="432">Jul 07</text><text x="484.5" y="432">Jul 21</text><text x="499.34" y="432">Aug 04</text><text x="514.18" y="432">Aug 18</text><text x="529.02" y="432">Sep 01</text><text x="543.86" y="432">Sep 15</text><text x="558.7" y="432">Sep 29</text><text x="573.54" y="432">Oct 13</text><text x="588.38" y="432">Oct 27</text><text x="603.22" y="432">Nov 10</text><text x="618.06" y="432">Nov 24</text><text x="632.9" y="432">Dec 08</text><text x="647.74" y="432">Dec 22</text><text x="662.58" y="432">Jan 05</text></g><text x="352.8" y="446" class="at" text-anchor="middle" style="font-size:7.4px">Date</text><text transform="translate(11.9 265.6) rotate(-90)" class="at" text-anchor="middle">new job post count</text><circle cx="687.8" cy="353.2" r="3.7" fill="#ff8ca0"/><text x="696.2" y="355.6" class="lg">WW</text><circle cx="687.8" cy="365.3" r="3.7" fill="#ffd750"/><text x="696.2" y="367.7" class="lg">On-site</text><circle cx="687.8" cy="377.4" r="3.7" fill="#c8a0ff"/><text x="696.2" y="379.8" class="lg">Remote</text><circle cx="687.8" cy="389.5" r="3.7" fill="#a8cdfb"/><text x="696.2" y="391.9" class="lg">Hybrid</text><circle cx="687.8" cy="401.6" r="3.7" fill="#5fdcc8"/><text x="696.2" y="404" class="lg">7 day MA</text><circle cx="687.8" cy="413.7" r="3.7" fill="#8489f3"/><text x="696.2" y="416.1" class="lg">30 day MA</text></svg>
<div class="tip"><div class="sq"></div><div class="tx">x: <b>2023-12-03</b>, y: <b>23.49k</b></div></div>
<div class="lab">Selected region</div>
<div class="sel"><span>Worldwide</span><svg style="position:absolute;left:255px;top:6px" width="6" height="9" viewBox="0 0 6 9"><path d="M1 3.3 3 1.3 5 3.3M1 5.7 3 7.7 5 5.7" fill="none" stroke="#7b8290" stroke-width="0.9"/></svg></div>
<div class="btns"><div class="b1">Daily</div><div class="b2">Weekly</div></div>
<div class="foot" style="left:21.5px;top:512.8px;transform:scaleX(0.879)">Last updated at: 2024/01/12</div>
<div class="foot" style="left:563.4px;top:512.6px;transform:scaleX(0.876)">Sources: LinkedIn, Indeed, Glassdoor and local IT job boards.</div>
</body></html>
